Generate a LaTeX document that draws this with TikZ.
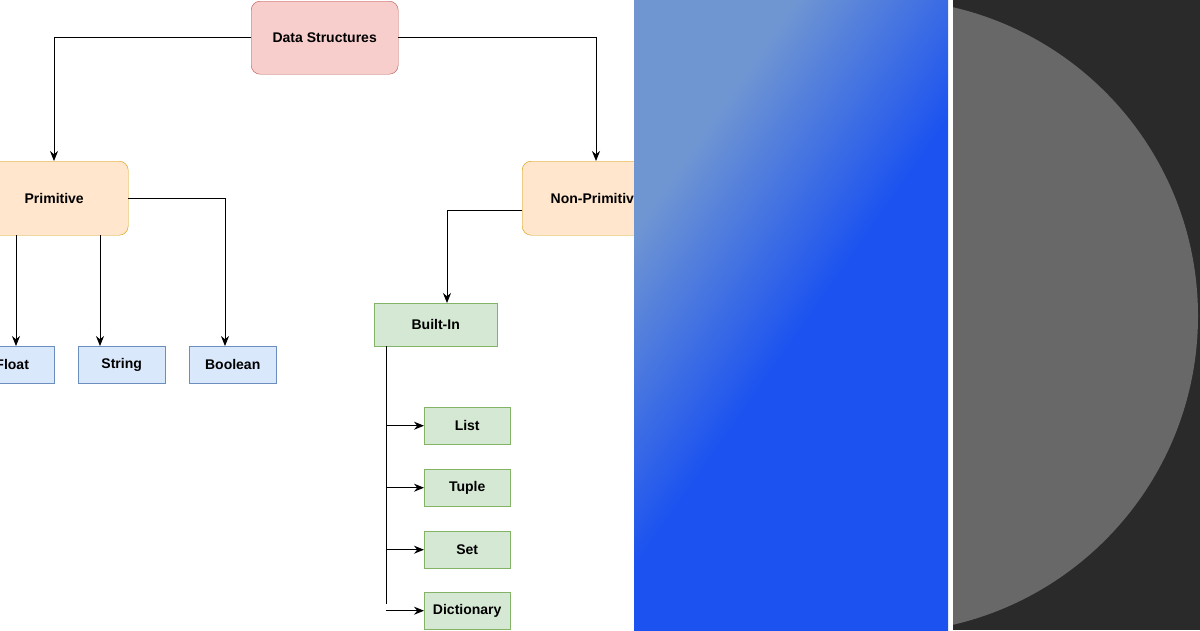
\documentclass[tikz,border=0pt]{standalone}
\usepackage{fontspec}
\setmainfont{Liberation Sans}
\usetikzlibrary{arrows.meta}
\definecolor{pinkf}{HTML}{F8CECC}\definecolor{pinks}{HTML}{B85450}
\definecolor{orf}{HTML}{FFE6CC}\definecolor{ors}{HTML}{D79B00}
\definecolor{blf}{HTML}{DAE8FC}\definecolor{bls}{HTML}{6C8EBF}
\definecolor{grf}{HTML}{D5E8D4}\definecolor{grs}{HTML}{82B366}
\definecolor{pa}{HTML}{7096D2}\definecolor{pb}{HTML}{1B52F0}
\definecolor{dk}{HTML}{2A2A2A}\definecolor{gy}{HTML}{686868}
\pgfdeclarehorizontalshading{pan}{100bp}{color(0bp)=(pa); color(30bp)=(pa); color(52bp)=(pb); color(100bp)=(pb)}
\begin{document}
\begin{tikzpicture}[x=1pt,y=-1pt,
 box/.style={draw,font=\bfseries\fontsize{14}{16}\selectfont,inner sep=0pt,anchor=north west},
 rbox/.style={box,rounded corners=9pt},
 arr/.style={-{Stealth[length=10pt,width=8pt]},black,line width=1pt}]
\useasboundingbox (0,0) rectangle (1200,630);
\fill[white] (0,0) rectangle (1200,630);
\node[rbox,fill=pinkf,draw=pinks,minimum width=147pt,minimum height=73pt] (ds) at (251,1) {Data Structures};
\node[rbox,fill=orf,draw=ors,minimum width=148pt,minimum height=74pt] (pr) at (-20,161) {Primitive};
\node[rbox,fill=orf,draw=ors,minimum width=148pt,minimum height=74pt] (np) at (522,161) {Non-Primitive};
\node[box,fill=blf,draw=bls,minimum width=84pt,minimum height=37pt] (fl) at (-30,346) {Float};
\node[box,fill=blf,draw=bls,minimum width=87pt,minimum height=37pt] (st) at (78,346) {String};
\node[box,fill=blf,draw=bls,minimum width=87pt,minimum height=37pt] (bo) at (189,346) {Boolean};
\node[box,fill=grf,draw=grs,minimum width=123pt,minimum height=43pt] (bi) at (374,303) {Built-In};
\node[box,fill=grf,draw=grs,minimum width=86pt,minimum height=37pt] (li) at (424,407) {List};
\node[box,fill=grf,draw=grs,minimum width=86pt,minimum height=37pt] (tu) at (424,469) {Tuple};
\node[box,fill=grf,draw=grs,minimum width=86pt,minimum height=37pt] (se) at (424,531) {Set};
\node[box,fill=grf,draw=grs,minimum width=86pt,minimum height=37pt] (di) at (424,592) {Dictionary};
\draw[arr] (ds.west) -| (54,161);
\draw[arr] (ds.east) -| (596,161);
\draw[arr] (16,235) -- (16,346);
\draw[arr] (100,235) -- (100,346);
\draw[arr] (pr.east |- 0,198) -| (225,346);
\draw[arr] (np.west |- 0,210) -| (447,303);
\coordinate (v0) at (386,346);
\draw[line width=1pt] (v0) -- (386,604);
\foreach \n in {li,tu,se,di}{\draw[arr] (v0 |- \n.west) -- (\n.west);}
\begin{scope}
\clip (634,0) rectangle (948,630);
\fill[pb] (634,0) rectangle (948,630);
\shade[shading=pan,shading angle=-35] (634,0) rectangle (948,630);
\end{scope}
\fill[dk] (953,0) rectangle (1200,630);
\begin{scope}\clip (953,0) rectangle (1200,630);
\fill[gy] (881,316) circle (317);
\end{scope}
\end{tikzpicture}
\end{document}
